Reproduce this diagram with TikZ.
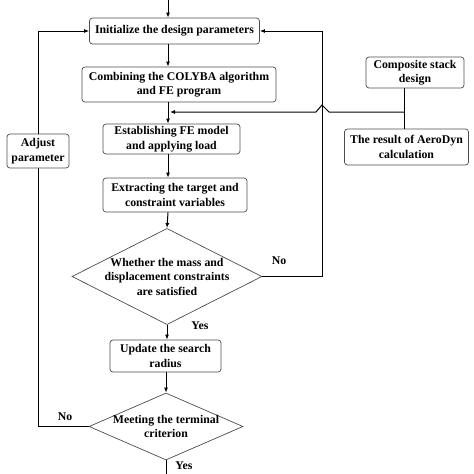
\documentclass[tikz,border=0pt]{standalone}
\usepackage{fontspec}
\setmainfont{Liberation Serif}
\usetikzlibrary{arrows.meta, calc, positioning, shapes.geometric}

\begin{document}
\begin{tikzpicture}[
    x=1pt, y=-1pt,
    every node/.style={font=\fontsize{11.8}{14.5}\selectfont\bfseries},
    box/.style={draw=black!70, line width=0.7pt, rounded corners=3pt, align=center, inner sep=1pt},
    decision/.style={diamond, draw=black!70, line width=0.7pt, align=center, inner xsep=-25pt, inner ysep=-8pt},
    arr/.style={-{Latex[length=5pt, width=4pt]}, line width=1pt},
    line/.style={line width=1pt},
  ]
  \useasboundingbox (0,0) rectangle (474,474);
  % --- main column
  \node[box, minimum width=170pt, minimum height=26pt] (init) at (174.5,31) {Initialize the design parameters};
  \node[box, minimum width=194pt, minimum height=35pt] (comb) at (179,84.5) {Combining the COLYBA algorithm\\and FE program};
  \node[box, minimum width=137pt, minimum height=30pt] (model) at (171.5,139) {Establishing FE model\\and applying load};
  \node[box, minimum width=144pt, minimum height=34pt] (extract) at (175,195) {Extracting the target and\\constraint variables};
  \node[decision, minimum width=190pt, minimum height=77pt] (check) at (167,276.5) {Whether the mass and\\displacement constraints\\are satisfied};
  \node[box, minimum width=111pt, minimum height=32pt] (update) at (165.5,356) {Update the search\\radius};
  \node[decision, minimum width=154pt, minimum height=67pt] (stop) at (166,426.5) {Meeting the terminal\\criterion};
  % --- side boxes
  \node[box, minimum width=62pt, minimum height=34pt] (adjust) at (38,151) {Adjust\\parameter};
  \node[box, minimum width=98pt, minimum height=31pt] (stack) at (415,72.5) {Composite stack\\design};
  \node[box, minimum width=124pt, minimum height=36pt] (aero) at (406.5,147) {The result of AeroDyn\\calculation};
  % --- helper coordinates
  \coordinate (spine) at (168,0);
  \coordinate (start) at (168,0);
  \coordinate (merge) at (170,112);
  \coordinate (loopR) at (322,0);
  \coordinate (branch) at (404.5,112);
  \coordinate (out) at (166,474);
  % --- edges
  \draw[arr] (start) -- (init.north -| spine);
  \draw[arr] (init.south -| spine) -- (comb.north -| spine);
  \draw[arr] (comb.south -| spine) -- (model.north -| spine);
  \draw[arr] (model.south -| spine) -- (extract.north -| spine);
  \draw[arr] (extract.south -| spine) -- (check.north);
  \draw[arr] (check.south) -- (update.north -| check.south);
  \draw[arr] (update.south -| stop.north) -- (stop.north);
  \draw[line] (stop.south) -- (out);
  % --- loops
  \draw[arr] (check.east) -| (loopR |- init.east) -- (init.east);
  \draw[line] (stop.west) -| (adjust.south);
  \draw[arr] (adjust.north) |- (init.west);
  % --- input branch with hop
  \draw[line] (stack.south -| branch) -- (aero.north -| branch);
  \draw[arr] (branch) -- (329,112) -- (322,105) -- (316,112) -- (merge);
  % --- labels
  \node at (279,261) {No};
  \node at (200,326) {Yes};
  \node at (65,417) {No};
  \node at (184,466) {Yes};
\end{tikzpicture}
\end{document}
